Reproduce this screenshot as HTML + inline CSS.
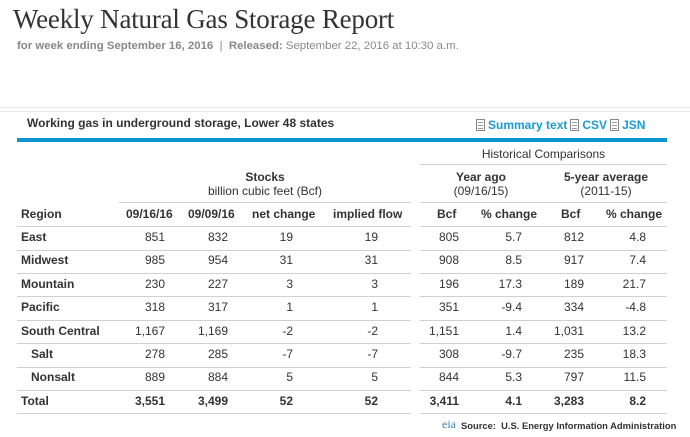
<!DOCTYPE html>
<html><head><meta charset="utf-8"><style>
*{margin:0;padding:0;box-sizing:border-box}
body{width:690px;height:437px;background:#fff;position:relative;overflow:hidden;font-family:"Liberation Sans",Arial,sans-serif;color:#333}
.a{position:absolute;white-space:nowrap}
.t{font-size:12px;line-height:14px}
.b{font-weight:bold}
.r{text-align:right}
.c{text-align:center}
.h{position:absolute;height:1px;background:#d0d0d0}
.ic{display:inline-block;width:9px;height:12px;border:1px solid #888;vertical-align:-2px;margin-right:3px;background:repeating-linear-gradient(#fff 0 2px,#999 2px 3px);background-size:5px 100%;background-position:1px 0;background-repeat:no-repeat}
</style></head><body>
<div class="a" style="left:13px;top:4px;font-family:'Liberation Serif',serif;font-size:27px;color:#333;letter-spacing:-0.2px">Weekly Natural Gas Storage Report</div>
<div class="a" style="left:17px;top:40px;font-size:11.4px;color:#888"><b>for week ending September 16, 2016</b> &nbsp;| &nbsp;<b>Released:</b> September 22, 2016 at 10:30 a.m.</div>
<div class="h" style="left:0;width:690px;top:107px;background:#e8e8e8"></div>
<div class="h" style="left:0;width:690px;top:111px;background:#e8e8e8"></div>
<div class="a t b" style="left:27px;top:116px">Working gas in underground storage, Lower 48 states</div>
<div class="a t b" style="left:476px;top:118px;color:#1a9ad6"><span class="ic"></span>Summary text<span class="ic" style="margin-left:3px"></span>CSV<span class="ic" style="margin-left:3px"></span>JSN</div>
<div class="a" style="left:17px;top:138px;width:650px;height:4px;background:#0d95d0"></div>
<div class="a t c" style="left:420px;width:247px;top:147px">Historical Comparisons</div>
<div class="h" style="left:420px;width:247px;top:164px"></div>
<div class="a t c" style="left:119px;width:292px;top:170px"><b>Stocks</b><br>billion cubic feet (Bcf)</div>
<div class="a t c" style="left:420px;width:122px;top:170px"><b>Year ago</b><br>(09/16/15)</div>
<div class="a t c" style="left:545px;width:122px;top:170px"><b>5-year average</b><br>(2011-15)</div>
<div class="h" style="left:119px;width:292px;top:202px"></div>
<div class="h" style="left:420px;width:247px;top:202px"></div>
<div class="a t b" style="left:21px;top:207px">Region</div>
<div class="a t b" style="left:126px;top:207px">09/16/16</div>
<div class="a t b" style="left:188px;top:207px">09/09/16</div>
<div class="a t b" style="left:252px;top:207px">net change</div>
<div class="a t b" style="left:333px;top:207px">implied flow</div>
<div class="a t b" style="left:437px;top:207px">Bcf</div>
<div class="a t b" style="left:481px;top:207px">% change</div>
<div class="a t b" style="left:561px;top:207px">Bcf</div>
<div class="a t b" style="left:606px;top:207px">% change</div>
<div id="rows"></div>
<script>
var d=[["East","851","832","19","19","805","5.7","812","4.8",0,0],
["Midwest","985","954","31","31","908","8.5","917","7.4",0,0],
["Mountain","230","227","3","3","196","17.3","189","21.7",0,0],
["Pacific","318","317","1","1","351","-9.4","334","-4.8",0,0],
["South Central","1,167","1,169","-2","-2","1,151","1.4","1,031","13.2",0,0],
["Salt","278","285","-7","-7","308","-9.7","235","18.3",1,0],
["Nonsalt","889","884","5","5","844","5.3","797","11.5",1,0],
["Total","3,551","3,499","52","52","3,411","4.1","3,283","8.2",0,1]];
var R=[165,228,293,378,459,522,584,646],h='';
h+='<div class="h" style="left:17px;width:394px;top:226px"></div><div class="h" style="left:420px;width:247px;top:226px"></div>';
for(var i=0;i<d.length;i++){var y=230+i*23.4,r=d[i];
h+='<div class="a t b" style="left:'+(r[9]?31:21)+'px;top:'+y+'px">'+r[0]+'</div>';
for(var j=0;j<8;j++)h+='<div class="a t r'+(r[10]?' b':'')+'" style="left:'+(R[j]-80)+'px;width:80px;top:'+y+'px">'+r[j+1]+'</div>';
var ly=Math.round(249.5+i*23.4);
h+='<div class="h" style="left:17px;width:394px;top:'+ly+'px"></div><div class="h" style="left:420px;width:247px;top:'+ly+'px"></div>';}
document.getElementById('rows').innerHTML=h;
</script>
<div class="a" style="left:442px;top:417px;font-family:'Liberation Serif',serif;font-size:12px;color:#3a7fb0">eia</div>
<div class="a b" style="left:461px;top:420px;font-size:9.4px;color:#333">Source:&nbsp; U.S. Energy Information Administration</div>
</body></html>
